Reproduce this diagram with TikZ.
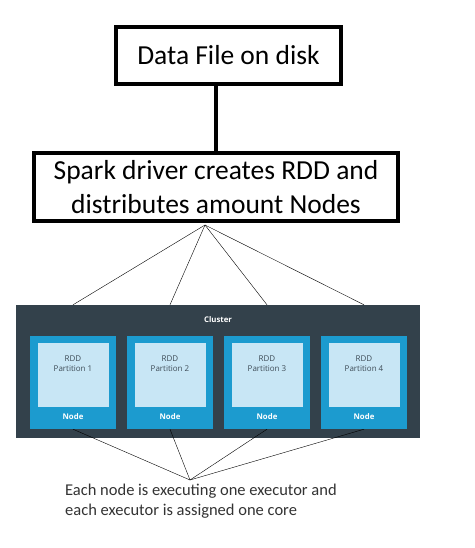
\documentclass[tikz,border=0pt]{standalone}
\usepackage{fontspec}
\setmainfont{Carlito}
\newfontfamily\clusterfont{Open Sans}
\definecolor{clusterdark}{HTML}{33414B}
\definecolor{nodeblue}{HTML}{1C9BCF}
\definecolor{partblue}{HTML}{C8E6F5}
\definecolor{parttext}{HTML}{3E4C57}
\definecolor{notetext}{HTML}{333333}
\begin{document}
\begin{tikzpicture}[x=1pt,y=-1pt,
    bigbox/.style={draw,line width=4pt,inner sep=0pt,font=\fontsize{27.5}{34}\selectfont,align=center}]
    \useasboundingbox[fill=white] (0,0) rectangle (474,548);
    \node[bigbox,minimum width=225,minimum height=57] (file) at (228.5,55.5) {Data File on disk};
    \node[bigbox,minimum width=364,minimum height=68] (driver) at (216,187) {Spark driver creates RDD and\\distributes amount Nodes};
    \draw[line width=4pt] (driver.north) -- (driver.north |- file.south);
    \coordinate (fan) at (205,225);
    \node[fill=clusterdark,minimum width=404,minimum height=133,inner sep=0pt] (cluster) at (218,371.5) {};
    \node[text=white,font=\clusterfont\bfseries\fontsize{7.8}{8}\selectfont] at (218,320) {Cluster};
    \foreach \i in {1,...,4} {
        \node[fill=nodeblue,minimum width=86,minimum height=93,inner sep=0pt] (node\i) at (73+97*\i-97,382.5) {};
        \node[fill=partblue,minimum width=71,minimum height=64,inner sep=0pt,align=center,
              text=parttext,font=\clusterfont\fontsize{8}{10}\selectfont] (part\i) at (73+97*\i-97,375) {RDD\\Partition \i\\[12pt]};
        \node[text=white,font=\clusterfont\bfseries\fontsize{7.8}{8}\selectfont] at (73+97*\i-97,417) {Node};
        \draw (fan) -- (node\i.north |- cluster.north);
    }
    \coordinate (join) at (190,480);
    \foreach \i in {1,...,4}
        \draw (node\i.south) -- (join);
    \node[anchor=north west,align=left,inner sep=0pt,text=notetext,font=\fontsize{16.5}{20}\selectfont] (note) at (65,484)
        {Each node is executing one executor and\\each executor is assigned one core};
\end{tikzpicture}
\end{document}
